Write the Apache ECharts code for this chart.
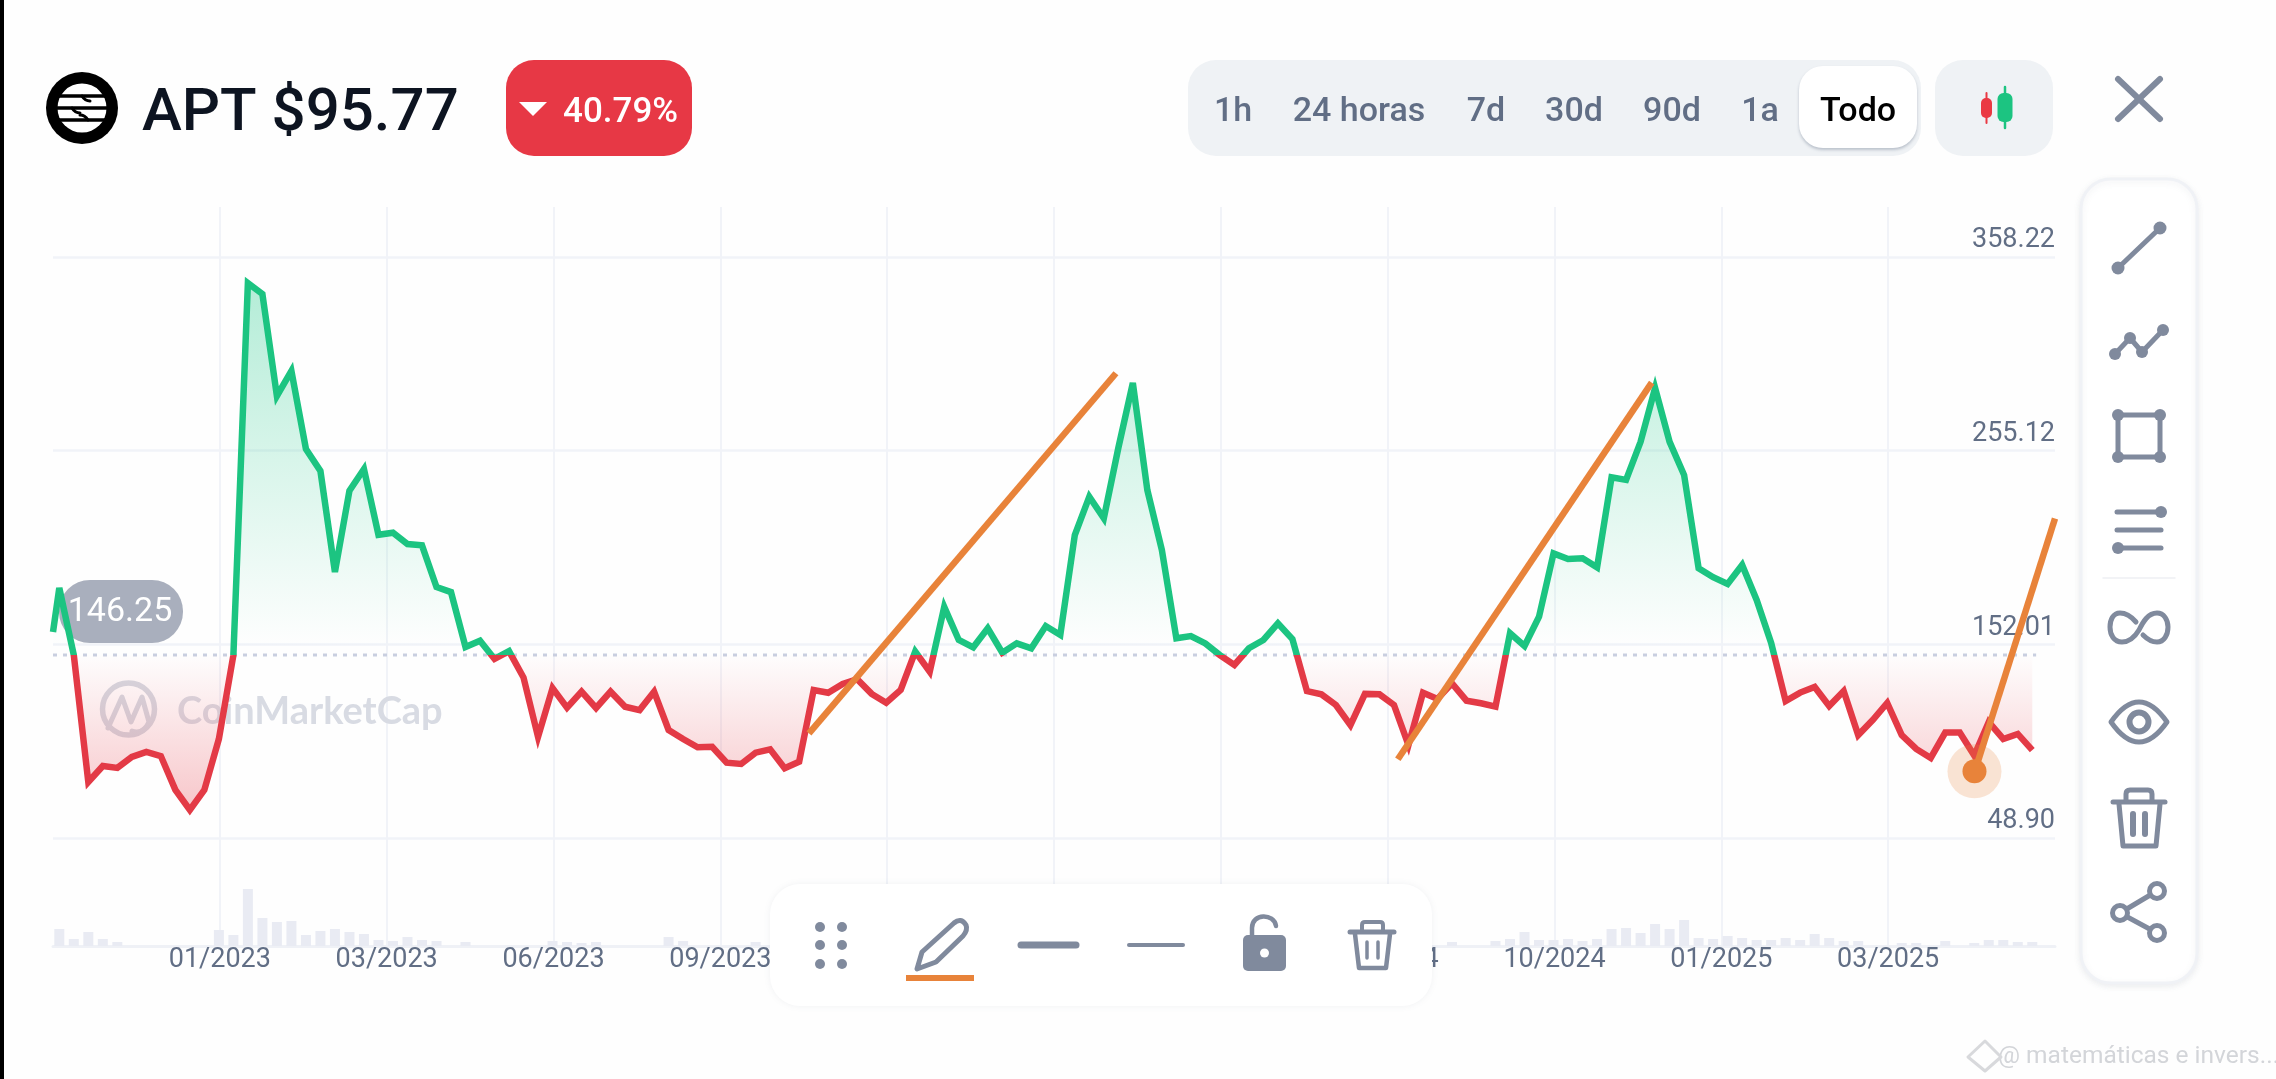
<!DOCTYPE html>
<html>
<head>
<meta charset="utf-8">
<style>html,body{margin:0;padding:0;background:#fefefe}#c{width:2276px;height:1079px}</style>
<script src="https://cdn.jsdelivr.net/npm/echarts@6/dist/echarts.min.js"></script>
</head>
<body>
<div id="c"></div>
<script>
// ---------- data ----------
const baseline = 146.25;
const yTicks = [48.90, 152.01, 255.12, 358.22];
const xLabels = ['01/2023','03/2023','06/2023','09/2023','11/2023','02/2024','05/2024','07/2024','10/2024','01/2025','03/2025'];
const firstWeek = 0.434;
const startPoint = [0,158.6];
const prices = [182.0,146.25,78.7,87.2,86.2,92.0,94.7,92.5,74.5,63.8,74.5,101.6,146.2,344.3,338.5,284.2,297.5,256.0,244.3,190.5,233.8,245.3,210.3,211.4,205.4,204.7,182.5,179.8,150.6,153.9,144.2,148.4,134.3,102.7,128.7,118.3,126.8,118.1,126.8,118.8,117.0,126.8,106.4,101.6,97.2,97.5,89.0,88.3,94.3,96.1,86.0,89.5,127.7,126.2,130.9,133.4,125.6,120.9,127.7,148.1,137.4,171.9,154.3,150.4,160.5,147.5,152.5,149.9,161.7,157.0,210.2,230.6,219.1,256.5,291.1,234.1,202.2,155.2,156.4,152.5,146.25,141.0,149.9,154.3,163.2,154.8,127.1,125.4,119.7,109.0,125.6,125.4,119.7,98.4,126.2,122.9,131.2,122.0,120.6,118.8,157.9,151.1,166.7,200.4,197.4,197.8,193.0,240.9,239.5,259.8,288.4,259.8,242.1,192.5,187.7,184.1,194.2,175.6,152.7,121.8,126.3,129.3,119.2,127.1,103.7,111.7,120.8,103.7,96.3,91.5,105.0,105.0,92.8,110.6,101.6,104.3,95.7];
const volumes = [17,7,14,7,4,0,0,0,0,0,0,16,11,57,28,24,25,11,15,17,14,12,6,5,9,6,5,0,4,0,0,0,0,0,5,4,3,4,0,0,0,0,9,5,0,0,0,0,4,0,0,0,0,0,0,0,0,0,0,0,0,0,0,0,0,0,0,0,0,0,0,0,0,0,0,0,0,0,0,0,0,0,0,0,0,0,0,0,0,0,0,0,0,0,0,0,4,0,0,5,7,14,6,6,7,5,7,17,18,13,22,17,26,8,7,10,8,6,6,8,6,12,8,5,5,0,0,3,3,0,5,0,3,6,6,4,4];
const trendA = [[52.11,104.6],[73.27,296.3]];
const trendB = [[92.7,90.8],[110.2,291.3]];
const trendC = [[132.45,83.9],[138,219.0]];
const activeHandle = [[132.45,84.4]];

// ---------- chart ----------
const GREEN='#1cc481', RED='#e33a46', ORANGE='#e8833a', GREY='#808a9d', TXT='#616e85', FONT='Roboto, sans-serif';
const pricePts = [startPoint].concat(prices.map((v,i)=>[firstWeek+i,v]));
const volPts = volumes.map((v,i)=>[firstWeek+i,v]);
const trend = (d)=>({type:'line',data:d,symbol:'none',z:6,silent:true,lineStyle:{color:ORANGE,width:6.5,cap:'butt'}});

const fillGradient = new echarts.graphic.LinearGradient(0,280,0,820,[
  {offset:0,color:'rgba(22,199,132,0.32)'},
  {offset:0.68,color:'rgba(22,199,132,0.0)'},
  {offset:0.69,color:'rgba(230,57,70,0.0)'},
  {offset:1,color:'rgba(230,57,70,0.30)'}
],true);

// ---------- page furniture ----------
const G=[];
const Z=10;
let pathCount=0;
const rect=(x,y,w,h,r,fill,extra)=>G.push({type:'rect',z:Z,silent:true,shape:{x,y,width:w,height:h,r},style:Object.assign({fill},extra||{})});
const line=(x1,y1,x2,y2,w,c,z)=>G.push({type:'line',z:z||Z+1,silent:true,shape:{x1,y1,x2,y2},style:{stroke:c||GREY,lineWidth:w,lineCap:'round'}});
const circ=(cx,cy,r,fill,stroke,w,z)=>G.push({type:'circle',z:z||Z+1,silent:true,shape:{cx,cy,r},style:{fill,stroke:stroke||null,lineWidth:w||0}});
const path=(d,stroke,w,fill,z)=>{
  const name='uiPath'+(pathCount++);
  echarts.graphic.registerShape(name,echarts.graphic.extendPath(d,{}));
  G.push({type:name,z:z||Z+1,silent:true,style:{stroke:stroke||null,lineWidth:w||0,fill:fill||'none',lineCap:'round',lineJoin:'round'}});
};
const text=(t,x,y,size,color,weight,align,z,fam)=>G.push({type:'text',z:z||Z+1,silent:true,style:{text:t,x,y,fill:color,font:`${weight||400} ${size}px ${fam||FONT}`,align:align||'center',verticalAlign:'middle'}});

// left edge
rect(0,0,4,1079,0,'#000');
// header
circ(82,108,36,'#000');
circ(82,108,24.5,'#fff');
[96,108,120].forEach(y=>line(54,y,110,y,3.5,'#000'));
path('M82 96 q3 5 8 5 M72 108 q3 5 8 5 M88 120 q-3 -5 -8 -5','#000',3);
text('APT $95.77',142,115,60,'#0d1421',500,'left');
rect(506,60,186,96,28,'#e73845');
path('M519 102 H547 L533 116 Z',null,0,'#fff');
text('40.79%',563,113,35,'#fff',500,'left');
// range tabs
rect(1188,60,733,96,28,'#eff2f5');
rect(1799,66,118,82,24,'#fff',{shadowBlur:3,shadowOffsetY:2,shadowColor:'rgba(88,102,126,0.35)'});
[['1h',1233],['24 horas',1359],['7d',1486],['30d',1574],['90d',1672],['1a',1760]].forEach(a=>text(a[0],a[1],112,34,'#616e85',500));
text('Todo',1858,112,34,'#000',500);
rect(1935,60,118,96,28,'#eff2f5');
line(1986.5,93,1986.5,123,2,'#ea3943');
rect(1981,98,11,20,5,'#ea3943',{});
G[G.length-1].z=Z+1;
line(2005,87,2005,128,2.5,GREEN);
rect(1997.5,93,15,29,6,GREEN,{});
G[G.length-1].z=Z+1;
// close
line(2118,79,2160,119,6,GREY);
line(2160,79,2118,119,6,GREY);

// right tools panel
rect(2081,179,116,804,30,'#fff',{stroke:'#f0f2f6',lineWidth:3,shadowBlur:6,shadowOffsetY:2,shadowColor:'rgba(120,130,150,0.12)'});
line(2118,268,2160,228,5);circ(2118,268,6.5,GREY);circ(2160,228,6.5,GREY);
path('M2115 354 L2130 338 L2142 352 L2163 330',GREY,5);
[[2115,354],[2130,338],[2142,352],[2163,330]].forEach(p=>circ(p[0],p[1],6,GREY));
path('M2118 415 H2160 V457 H2118 Z',GREY,5);
[[2118,415],[2160,415],[2118,457],[2160,457]].forEach(p=>circ(p[0],p[1],6,GREY));
line(2117,512,2162,512,5);circ(2161,512,6,GREY);
line(2117,530,2161,530,5);
line(2118,548,2161,548,5);circ(2118,548,6,GREY);
line(2103,578,2175,578,1.5,'#eef0f4');
path('M2136 622 C2130 615 2125 613 2120 613 C2113 613 2110 620 2110 627 C2110 635 2114 642 2122 642 C2130 642 2136 635 2139 630 C2143 622 2148 613 2157 613 C2164 613 2168 620 2168 627 C2168 635 2164 642 2157 642 C2152 642 2147 639 2143 635',GREY,5);
path('M2111 722 Q2139 682 2167 722 Q2139 762 2111 722 Z',GREY,5);
circ(2139,722,9.5,'#fff',GREY,6);
circ(2139,721,3,'#fff');
line(2113,802,2165,802,5);
path('M2126 800 V794 Q2126 790 2130 790 H2148 Q2152 790 2152 794 V800',GREY,5);
path('M2119 804 L2123 846 H2156 L2160 804',GREY,5);
line(2133,814,2133,834,6);line(2145,814,2145,834,6);
line(2157,891,2120,913,5);line(2120,913,2157,933,5);
[[2157,891],[2120,913],[2157,933]].forEach(p=>circ(p[0],p[1],7.5,'#fff',GREY,5));

// bottom drawing panel
rect(770,884,662,122,30,'#fff',{shadowBlur:6,shadowColor:'rgba(120,130,150,0.10)'});
[927,945,964].forEach(y=>{circ(820,y,5,GREY);circ(842,y,5,GREY);});
path('M917 969 L922 952 L954 923 Q961 917 966 925 Q968 930 963 936 L936 962 Z',GREY,5);
line(906,978,974,978,6,ORANGE);
G[G.length-1].style.lineCap='butt';
line(1021,945,1076,945,7);
line(1129,945,1183,945,4);
rect(1243,935,43,36,5,GREY);G[G.length-1].z=Z+1;
circ(1264.5,953,4.5,'#fff',null,0,Z+2);
path('M1252 935 V928 C1252 913 1274 913 1276 926',GREY,4.5);
line(1350,932,1394,932,5);
path('M1362 930 V925 Q1362 922 1365 922 H1380 Q1383 922 1383 925 V930',GREY,4);
path('M1355 934 L1359 968 H1386 L1390 934',GREY,4.5);
line(1367,942,1367,958,3.5);line(1378,942,1378,958,3.5);

// price pill, watermark of the chart, picture watermark
rect(59,580,124,63,31,'#a9afbd');G[G.length-1].z=1;
text('146.25',120,612,34,'#fff',400,'center',1);
circ(128.5,709,26,'none','#d5d9e1',5.5,1);
path('M108 728 L122 697 L131 722 L142 697 L149 722 Q143 735 132 731','#d5d9e1',5,'none',1);
text('CoinMarketCap',177,712,38,'#d8dbe3',700,'left',1,'Lato, sans-serif');
text('@ matemáticas e invers...',1998,1057,24.5,'#d3d5d9',400,'left',Z);
path('M1985 1041 L2001 1057 L1985 1071 L1968 1057 Z','#d8d9dc',3,'none',Z);

const chart = echarts.init(document.getElementById('c'),null,{renderer:'canvas',width:2276,height:1079});
chart.setOption({
  animation:false,
  backgroundColor:'#fefefe',
  textStyle:{fontFamily:FONT},
  grid:{left:53,right:221,top:207,bottom:133,containLabel:false},
  visualMap:{show:false,type:'piecewise',seriesIndex:1,dimension:1,
    pieces:[{gt:baseline,lte:5000,color:GREEN},{gt:-5000,lte:baseline,color:RED}]},
  xAxis:{type:'value',min:0,max:138,interval:11.5,
    axisLine:{show:true,onZero:false,lineStyle:{color:'#eff1f6',width:3}},
    axisTick:{show:false},
    axisLabel:{color:TXT,fontSize:27,margin:1,lineHeight:26,padding:[0,0,0,0],
      showMinLabel:false,showMaxLabel:false,
      formatter:(v)=>xLabels[Math.round(v/11.5)-1]||''},
    splitLine:{show:true,showMinLine:false,showMaxLine:false,lineStyle:{color:'#f1f3f8',width:2}}},
  yAxis:[
    {type:'value',position:'right',min:-8.6,max:384.8,
      axisLine:{show:false},
      axisTick:{show:false,customValues:yTicks},
      axisLabel:{inside:true,customValues:yTicks,color:TXT,fontSize:27,margin:0,verticalAlign:'bottom',padding:[0,0,3,0],
        formatter:(v)=>v.toFixed(2)},
      splitLine:{show:true,lineStyle:{color:'#f1f3f8',width:2.5}}},
    {type:'value',min:0,max:739,show:false,splitLine:{show:false}}
  ],
  series:[
    {type:'line',data:[[0,baseline],[136.7,baseline]],symbol:'none',z:3,silent:true,
      lineStyle:{color:'#c9cfe0',width:3,type:[4,6]}},
    {type:'line',data:pricePts,symbol:'none',z:4,silent:true,
      lineStyle:{width:6.5,join:'miter',miterLimit:5},
      areaStyle:{origin:baseline,color:fillGradient,opacity:1}},
    {type:'bar',data:volPts,yAxisIndex:1,barWidth:10,z:1,silent:true,itemStyle:{color:'#e9ebf3'}},
    trend(trendA),trend(trendB),trend(trendC),
    {type:'scatter',data:activeHandle,symbolSize:54,z:5,silent:true,itemStyle:{color:'rgba(232,131,58,0.22)',opacity:1}},
    {type:'scatter',data:activeHandle,symbolSize:24,z:7,silent:true,itemStyle:{color:ORANGE,opacity:1}}
  ],
  graphic:{elements:G}
});
</script>
</body>
</html>
